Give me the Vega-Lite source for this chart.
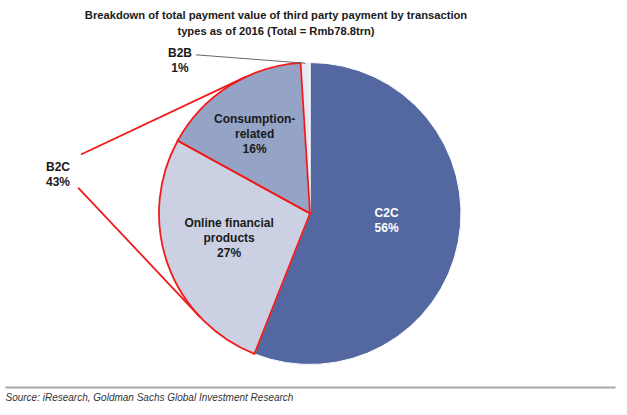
{
  "$schema": "https://vega.github.io/schema/vega-lite/v6.json",
  "width": 610,
  "height": 347,
  "autosize": {"type": "none"},
  "padding": {"left": 5, "top": 40, "right": 12, "bottom": 28},
  "background": "white",
  "title": {
    "text": ["Breakdown of total payment value of third party payment by transaction", "types as of 2016 (Total = Rmb78.8trn)"],
    "font": "Liberation Sans",
    "fontSize": 11.2,
    "fontWeight": "bold",
    "color": "#1a1a1a",
    "lineHeight": 16,
    "anchor": "middle",
    "dx": -34,
    "offset": 3
  },
  "datasets": {
    "slices": [
      {"name": "C2C", "value": 56, "ord": 1, "group": "C2C", "label": "C2C\n56%"},
      {"name": "Online financial products", "value": 27, "ord": 2, "group": "B2C", "label": "Online financial\nproducts\n27%"},
      {"name": "Consumption-related", "value": 16, "ord": 3, "group": "B2C", "label": "Consumption-\nrelated\n16%"},
      {"name": "B2B", "value": 1, "ord": 4, "group": "B2B", "label": "B2B\n1%"}
    ],
    "connectors": [
      {"kind": "B2C", "x1": -1.517, "y1": 0.391, "x2": -0.426, "y2": 0.905},
      {"kind": "B2C", "x1": -1.536, "y1": 0.172, "x2": -0.728, "y2": -0.686},
      {"kind": "B2B", "x1": -0.755, "y1": 1.051, "x2": -0.03, "y2": 0.995}
    ],
    "outer": [
      {"label": "B2C\n43%", "x": -1.669, "y": 0.308},
      {"label": "B2B\n1%", "x": -0.861, "y": 1.063}
    ]
  },
  "layer": [
    {
      "data": {"name": "slices"},
      "mark": {"type": "arc", "outerRadius": 151, "stroke": "white", "strokeWidth": 1},
      "encoding": {
        "theta": {"field": "value", "type": "quantitative", "stack": true},
        "order": {"field": "ord", "type": "quantitative"},
        "color": {
          "field": "name", "type": "nominal", "legend": null,
          "scale": {
            "domain": ["C2C", "Online financial products", "Consumption-related", "B2B"],
            "range": ["#5368a0", "#cbd1e2", "#94a3c6", "#e6e9f2"]
          }
        }
      }
    },
    {
      "data": {"name": "slices"},
      "mark": {"type": "arc", "outerRadius": 151, "fillOpacity": 0, "stroke": "#f01a1a", "strokeWidth": 1.8},
      "encoding": {
        "theta": {"field": "value", "type": "quantitative", "stack": true},
        "order": {"field": "ord", "type": "quantitative"},
        "strokeOpacity": {"condition": {"test": "datum.group === 'B2C'", "value": 1}, "value": 0}
      }
    },
    {
      "data": {"name": "slices"},
      "mark": {"type": "text", "radius": 78, "dy": -15, "font": "Liberation Sans", "fontSize": 12, "fontWeight": "bold", "lineBreak": "\n", "lineHeight": 15, "color": "white", "align": "center", "baseline": "middle"},
      "encoding": {
        "theta": {"field": "value", "type": "quantitative", "stack": true},
        "order": {"field": "ord", "type": "quantitative"},
        "text": {"condition": {"test": "datum.name === 'C2C'", "field": "label"}, "value": ""}
      }
    },
    {
      "data": {"name": "slices"},
      "mark": {"type": "text", "radius": 86, "dy": -20, "font": "Liberation Sans", "fontSize": 12, "fontWeight": "bold", "lineBreak": "\n", "lineHeight": 15, "color": "#1a1a1a", "align": "center", "baseline": "middle"},
      "encoding": {
        "theta": {"field": "value", "type": "quantitative", "stack": true},
        "order": {"field": "ord", "type": "quantitative"},
        "text": {"condition": {"test": "datum.name === 'Online financial products'", "field": "label"}, "value": ""}
      }
    },
    {
      "data": {"name": "slices"},
      "mark": {"type": "text", "radius": 94, "dx": -5, "dy": -15, "font": "Liberation Sans", "fontSize": 12, "fontWeight": "bold", "lineBreak": "\n", "lineHeight": 15, "color": "#1a1a1a", "align": "center", "baseline": "middle"},
      "encoding": {
        "theta": {"field": "value", "type": "quantitative", "stack": true},
        "order": {"field": "ord", "type": "quantitative"},
        "text": {"condition": {"test": "datum.name === 'Consumption-related'", "field": "label"}, "value": ""}
      }
    },
    {
      "data": {"name": "connectors"},
      "mark": {"type": "rule"},
      "encoding": {
        "x": {
          "field": "x1", "type": "quantitative",
          "scale": {"domain": [-2.0199, 2.0199], "nice": false, "zero": false},
          "axis": {
            "domain": true, "domainColor": "#a6a6a6", "domainWidth": 2,
            "labels": false, "ticks": false, "grid": false,
            "title": "Source: iResearch, Goldman Sachs Global Investment Research",
            "titleFont": "Liberation Sans", "titleFontSize": 10, "titleFontStyle": "italic",
            "titleFontWeight": "normal", "titleColor": "#333333",
            "titleAnchor": "start", "titleAlign": "left", "titlePadding": 5
          }
        },
        "x2": {"field": "x2"},
        "y": {
          "field": "y1", "type": "quantitative",
          "scale": {"domain": [-1.149, 1.149], "nice": false, "zero": false},
          "axis": null
        },
        "y2": {"field": "y2"},
        "color": {"condition": {"test": "datum.kind === 'B2C'", "value": "#f01a1a"}, "value": "#666666"},
        "strokeWidth": {"condition": {"test": "datum.kind === 'B2C'", "value": 1.8}, "value": 1}
      }
    },
    {
      "data": {"name": "outer"},
      "mark": {"type": "text", "font": "Liberation Sans", "fontSize": 12, "fontWeight": "bold", "lineBreak": "\n", "lineHeight": 15, "color": "#1a1a1a", "align": "center", "baseline": "middle"},
      "encoding": {
        "x": {"field": "x", "type": "quantitative"},
        "y": {"field": "y", "type": "quantitative"},
        "text": {"field": "label"}
      }
    }
  ],
  "config": {"view": {"stroke": null}}
}
